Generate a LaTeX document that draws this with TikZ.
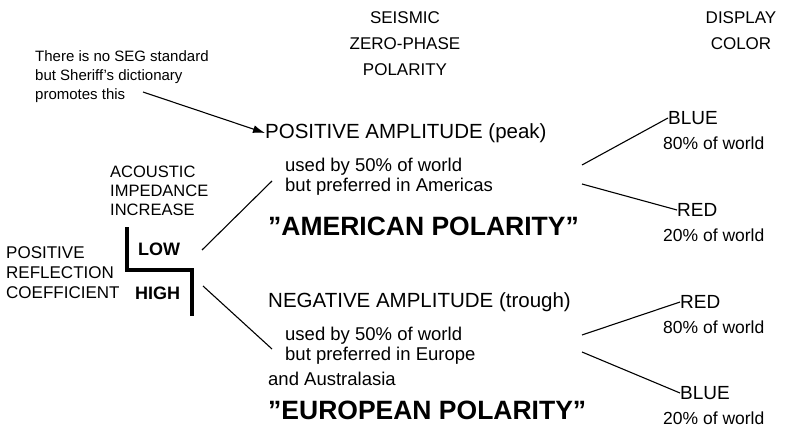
\documentclass[tikz,border=0pt]{standalone}
\usepackage{fontspec}
\setmainfont{Liberation Sans}
\usetikzlibrary{arrows.meta}
\begin{document}
\begin{tikzpicture}[x=1pt,y=-1pt,
 t/.style={anchor=west,inner sep=0pt,font=\fontsize{18.5}{20}\selectfont},
 pc/.style={anchor=west,inner sep=0pt,font=\fontsize{17.5}{20}\selectfont},
 big/.style={anchor=west,inner sep=0pt,font=\fontsize{20.5}{22}\selectfont},
 col/.style={anchor=west,inner sep=0pt,font=\fontsize{19}{22}\selectfont},
 hd/.style={align=center,inner sep=0pt,font=\fontsize{17}{26}\selectfont},
 sm/.style={anchor=west,inner sep=0pt,align=left,font=\fontsize{15}{19}\selectfont},
 pol/.style={anchor=west,inner sep=0pt,font=\bfseries\fontsize{26.5}{28}\selectfont},
 ln/.style={line width=1.1pt}]
\useasboundingbox (0,0) rectangle (788,444);
\node[hd] (h1) at (405,44) {SEISMIC\\ZERO-PHASE\\POLARITY};
\node[hd] (h2) at (741,31) {DISPLAY\\COLOR};
\node[sm] (note) at (35,77) {There is no SEG standard\\but Sheriff's dictionary\\promotes this};
\node[big] (pos) at (265,133) {POSITIVE AMPLITUDE (peak)};
\node[t] (u1) at (285,167) {used by 50\% of world};
\node[t] (u2) at (285,187) {but preferred in Americas};
\node[pol] (am) at (268,226) {\char"22 AMERICAN POLARITY\char"22};
\node[col] (b1) at (668,118) {BLUE};
\node[pc] (p1) at (663,143) {80\% of world};
\node[col] (r1) at (677,210) {RED};
\node[pc] (p2) at (663,235) {20\% of world};
\node[t,align=left,font=\fontsize{16.5}{19}\selectfont] (ac) at (110,191) {ACOUSTIC\\IMPEDANCE\\INCREASE};
\node[t,align=left,font=\fontsize{17}{20}\selectfont] (prc) at (6,273) {POSITIVE\\REFLECTION\\COEFFICIENT};
\node[t,font=\bfseries\fontsize{18}{19}\selectfont] (low) at (138,249) {LOW};
\node[t,font=\bfseries\fontsize{18}{19}\selectfont] (high) at (135,293) {HIGH};
\node[big] (neg) at (268,302) {NEGATIVE AMPLITUDE (trough)};
\node[t] (v1) at (285,336) {used by 50\% of world};
\node[t] (v2) at (285,356) {but preferred in Europe};
\node[t] (v3) at (268,379) {and Australasia};
\node[pol] (eu) at (268,410) {\char"22 EUROPEAN POLARITY\char"22};
\node[col] (r2) at (680,302) {RED};
\node[pc] (p3) at (663,327) {80\% of world};
\node[col] (b2) at (680,393) {BLUE};
\node[pc] (p4) at (663,418) {20\% of world};
\draw[line width=4pt] (127,227) -- (127,270) -- (192,270) -- (192,316);
\draw[ln,-{Latex[length=12pt,width=8pt]}] (143,92) -- (pos.west);
\coordinate (a1) at (202,250); \coordinate (a2) at (272,181);
\coordinate (c1) at (203,286); \coordinate (c2) at (272,349);
\draw[ln] (a1) -- (a2); \draw[ln] (c1) -- (c2);
\draw[ln] (582,165) -- (b1.west); \draw[ln] (582,184) -- (r1.west);
\draw[ln] (582,335) -- (r2.west); \draw[ln] (582,352) -- (b2.west);
\end{tikzpicture}
\end{document}
